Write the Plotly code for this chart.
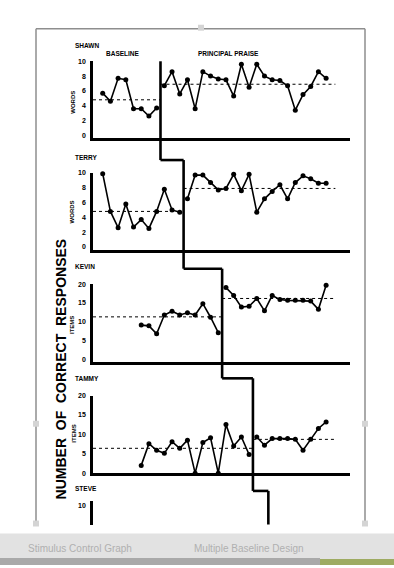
import plotly.graph_objects as go

# ---------------- data ----------------
panel_names = ["SHAWN", "TERRY", "KEVIN", "TAMMY", "STEVE"]
measure_names = ["WORDS", "WORDS", "ITEMS", "ITEMS"]
phase_names = ["BASELINE", "PRINCIPAL PRAISE"]
y_title = "NUMBER  OF  CORRECT  RESPONSES"

# session numbers where the phase changes (between sessions)
phase_change = [8.5, 11.5, 16.5, 20.5, 22.5]

p1_base_sessions = [1, 2, 3, 4, 5, 6, 7, 8]
p1_base_values = [5.7, 4.6, 7.7, 7.5, 3.6, 3.6, 2.6, 3.7]
p1_treat_sessions = list(range(9, 31))
p1_treat_values = [6.7, 8.6, 5.6, 7.5, 3.6, 8.6, 8.0, 7.6, 7.5, 5.3, 9.6,
                   6.5, 9.6, 8.0, 7.5, 7.4, 6.7, 3.4, 5.5, 6.6, 8.6, 7.7]
p1_means = [4.8, 6.9]

p2_base_sessions = list(range(1, 12))
p2_base_values = [9.9, 4.8, 2.6, 5.8, 2.7, 3.7, 2.5, 4.8, 7.8, 5.0, 4.7]
p2_treat_sessions = list(range(12, 31))
p2_treat_values = [6.5, 9.7, 9.7, 8.7, 7.7, 7.9, 9.8, 7.6, 9.8, 4.7, 6.5,
                   7.5, 8.4, 6.5, 8.7, 9.6, 9.2, 8.6, 8.6]
p2_means = [4.8, 7.9]

p3_base_sessions = list(range(6, 17))
p3_base_values = [9.1, 8.9, 6.8, 11.8, 12.8, 11.8, 12.4, 11.8, 14.8, 11.2, 7.1]
p3_treat_sessions = list(range(17, 31))
p3_treat_values = [19.1, 17.0, 13.9, 14.1, 16.2, 12.9, 17.0, 15.9, 15.7,
                   15.7, 15.7, 15.5, 13.3, 19.7]
p3_means = [11.3, 16.2]

p4_base_sessions = list(range(6, 21))
p4_base_values = [2.0, 7.6, 5.9, 5.1, 8.1, 6.4, 8.5, 0.0, 7.9, 9.1, 0.0,
                  12.5, 7.0, 9.3, 4.8]
p4_treat_sessions = list(range(21, 31))
p4_treat_values = [9.3, 7.2, 8.9, 8.9, 8.9, 8.7, 5.9, 8.7, 11.5, 13.2]
p4_means = [6.4, 8.7]

tick_sets = [
    ([0, 2, 4, 6, 8, 10], ["0", "2", "4", "6", "8", "10"]),
    ([0, 2, 4, 6, 8, 10], ["0", "2", "4", "6", "8", "10"]),
    ([0, 5, 10, 15, 20], ["0", "5", "10", "15", "20"]),
    ([0, 5, 10, 15, 20], ["0", "5", "10", "15", "20"]),
    ([10], ["10"]),
]

# ---------------- layout geometry (pixels) ----------------
W, H = 394, 568
def px(x):
    return x / W
def py(y):
    return 1 - y / H

X_LEFT, X_RIGHT = 93, 350
X_RANGE = [-0.26, 33.1]
TREND_END = 31.2
# (top, bottom, yrange) for each panel
panels = [
    (58, 136, [-0.4, 10.0]),
    (171, 249, [-0.4, 10.0]),
    (283.7, 362, [-0.6, 20.0]),
    (396.4, 475, [0, 20.0]),
    (503, 527, [0, 12.3]),
]
step_y = [158, 268, 379, 493, 527]

series = [
    (p1_base_sessions, p1_base_values, p1_treat_sessions, p1_treat_values, p1_means),
    (p2_base_sessions, p2_base_values, p2_treat_sessions, p2_treat_values, p2_means),
    (p3_base_sessions, p3_base_values, p3_treat_sessions, p3_treat_values, p3_means),
    (p4_base_sessions, p4_base_values, p4_treat_sessions, p4_treat_values, p4_means),
]

FONT = "Liberation Sans"
fig = go.Figure()
layout = dict(
    width=W, height=H, margin=dict(l=0, r=0, t=0, b=0),
    paper_bgcolor="white", plot_bgcolor="rgba(0,0,0,0)",
    showlegend=False, hovermode=False,
)

for i, (top, bot, yr) in enumerate(panels):
    n = "" if i == 0 else str(i + 1)
    tv, tt = tick_sets[i]
    layout["xaxis" + n] = dict(
        domain=[px(X_LEFT), px(X_RIGHT)], range=X_RANGE, anchor="y" + n,
        showline=(i < 4), linecolor="black", linewidth=2.6,
        showgrid=False, zeroline=False, showticklabels=False, ticks="",
    )
    layout["yaxis" + n] = dict(
        domain=[py(bot), py(top)], range=yr, anchor="x" + n,
        showline=True, linecolor="black", linewidth=2.6,
        showgrid=False, zeroline=False, ticks="",
        tickvals=tv, ticktext=tt, ticklabelstandoff=3,
        tickfont=dict(family=FONT, size=7, color="black", weight="bold"),
    )

for i, (bs, bv, ts, tvals, means) in enumerate(series):
    n = "" if i == 0 else str(i + 1)
    xa, ya = "x" + n, "y" + n
    for s, v in ((bs, bv), (ts, tvals)):
        fig.add_trace(go.Scatter(
            x=s, y=v, xaxis=xa, yaxis=ya, mode="lines+markers",
            line=dict(color="black", width=1.6),
            marker=dict(color="black", size=5),
            cliponaxis=False,
        ))
    # phase means (dotted)
    fig.add_trace(go.Scatter(
        x=[X_RANGE[0], phase_change[i]], y=[means[0], means[0]],
        xaxis=xa, yaxis=ya, mode="lines",
        line=dict(color="black", width=1, dash="dot")))
    fig.add_trace(go.Scatter(
        x=[phase_change[i], TREND_END], y=[means[1], means[1]],
        xaxis=xa, yaxis=ya, mode="lines",
        line=dict(color="black", width=1, dash="dot")))

# fifth (cut-off) panel: only its axis is visible
fig.add_trace(go.Scatter(x=[None], y=[None], xaxis="x5", yaxis="y5", mode="lines"))

shapes = []
# staircase phase-change line
prev_y = panels[0][0]
for i, pc in enumerate(phase_change):
    shapes.append(dict(type="line", xref="x", yref="paper",
                       x0=pc, x1=pc, y0=py(prev_y), y1=py(step_y[i]),
                       line=dict(color="black", width=2.6)))
    if i + 1 < len(phase_change):
        shapes.append(dict(type="line", xref="x", yref="paper",
                           x0=pc, x1=phase_change[i + 1],
                           y0=py(step_y[i]), y1=py(step_y[i]),
                           line=dict(color="black", width=2.6)))
    prev_y = step_y[i]

# page frame and handles (screenshot chrome)
frame = dict(color="#8e8e8e", width=1.5)
shapes += [
    dict(type="line", xref="paper", yref="paper", x0=px(36), x1=px(365), y0=py(25), y1=py(25), line=frame),
    dict(type="line", xref="paper", yref="paper", x0=px(36), x1=px(36), y0=py(25), y1=py(527), line=frame),
    dict(type="line", xref="paper", yref="paper", x0=px(365), x1=px(365), y0=py(25), y1=py(527), line=frame),
]
for (hx, hy) in [(36, 526), (365, 526), (36, 425), (365, 425), (201, 24)]:
    shapes.append(dict(type="rect", xref="paper", yref="paper",
                       x0=px(hx - 3), x1=px(hx + 3), y0=py(hy + 3), y1=py(hy - 3),
                       fillcolor="#d4d4d4", line=dict(width=0)))
# bottom status bar
shapes += [
    dict(type="rect", xref="paper", yref="paper", x0=0, x1=1, y0=0, y1=py(536),
         fillcolor="#e2e2e2", line=dict(width=0), layer="below"),
    dict(type="rect", xref="paper", yref="paper", x0=0, x1=px(320), y0=0, y1=py(561),
         fillcolor="#a9a9a9", line=dict(width=0)),
    dict(type="rect", xref="paper", yref="paper", x0=px(320), x1=1, y0=0, y1=py(562),
         fillcolor="#9eab62", line=dict(width=0)),
]
layout["shapes"] = shapes

ann = []
def label(x, y, text, size=6.5, angle=0, xanchor="left", color="black", weight="bold"):
    ann.append(dict(x=px(x), y=py(y), xref="paper", yref="paper", text=text,
                    showarrow=False, xanchor=xanchor, yanchor="middle",
                    textangle=angle,
                    font=dict(family=FONT, size=size, color=color, weight=weight)))

label_y = [42, 155, 266, 379, 491]
for name, ly in zip(panel_names, label_y):
    label(73, ly, name)
meas_pos = [(73, 100), (72, 211), (72, 325), (74, 435)]
for m, (mx, my) in zip(measure_names, meas_pos):
    label(mx, my, m, size=6, angle=-90, xanchor="center")
label(104, 50, phase_names[0])
label(196, 50, phase_names[1])
label(61, 370, y_title, size=14, angle=-90, xanchor="center")
label(80, 551, "Stimulus Control Graph", size=10, xanchor="center", color="#b0b0b0", weight="normal")
label(249, 551, "Multiple Baseline Design", size=10, xanchor="center", color="#b0b0b0", weight="normal")
layout["annotations"] = ann

fig.update_layout(**layout)
fig.write_html(
    "out.html",
    config={"displayModeBar": False},
    post_script="document.body.style.margin='0';document.body.style.overflow='hidden';",
)
